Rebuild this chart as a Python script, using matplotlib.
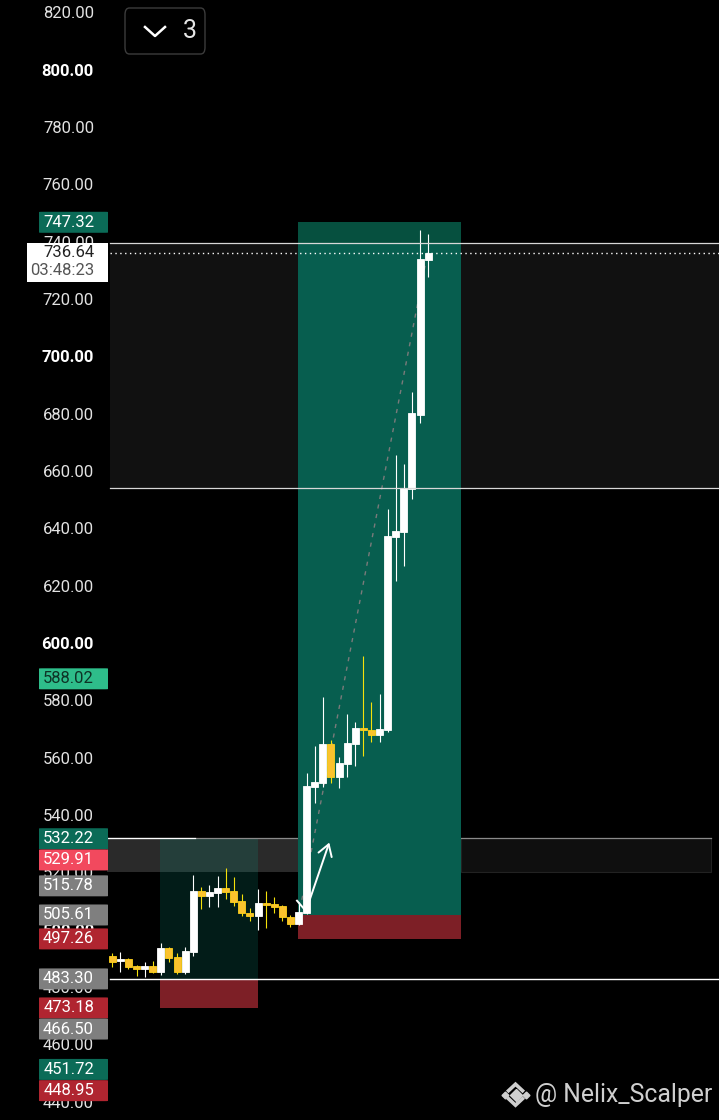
import numpy as np
import matplotlib
matplotlib.use('Agg')
import matplotlib.pyplot as plt
import matplotlib.transforms as mtransforms
from matplotlib.patches import Rectangle, FancyBboxPatch

plt.rcParams['font.family'] = ['Roboto', 'DejaVu Sans']

# candle data (open, high, low, close), one per bar
opens  = [491.3, 489.5, 490.2, 487.8, 486.7, 487.8, 485.8, 494.0, 490.9, 485.7,
          492.8, 514.0, 512.4, 513.4, 514.9, 514.0, 510.4, 506.4, 505.4, 509.8,
          509.5, 508.8, 504.8, 502.3, 506.4, 550.4, 551.8, 565.3, 553.9, 558.4,
          565.4, 571.0, 570.2, 568.5, 570.3, 637.6, 639.4, 654.4, 680.2, 734.3]
highs  = [492.3, 492.7, 490.6, 488.2, 489.2, 489.6, 495.8, 494.4, 492.3, 494.4,
          519.6, 515.2, 516.1, 519.2, 522.0, 518.9, 512.8, 508.0, 514.7, 514.0,
          511.9, 509.1, 505.7, 510.3, 555.1, 564.4, 581.8, 566.7, 560.6, 575.9,
          573.1, 596.0, 579.9, 582.7, 647.3, 666.1, 663.0, 688.1, 744.6, 743.2]
lows   = [487.6, 485.8, 486.7, 484.4, 483.8, 485.5, 484.7, 489.3, 485.0, 485.0,
          491.3, 507.7, 508.5, 508.5, 511.2, 508.9, 505.3, 503.6, 500.5, 501.2,
          506.4, 503.6, 501.5, 502.0, 505.9, 544.8, 550.4, 551.8, 550.0, 553.9,
          557.7, 561.2, 565.8, 565.8, 569.5, 622.0, 627.5, 650.9, 677.4, 728.3]
closes = [489.3, 490.3, 487.6, 486.7, 487.8, 485.8, 494.0, 490.7, 485.7, 493.1,
          514.0, 512.4, 513.8, 514.9, 513.8, 510.3, 506.2, 505.4, 509.8, 509.2,
          508.5, 504.8, 502.4, 506.7, 550.6, 552.0, 565.3, 553.9, 558.7, 565.6,
          571.0, 570.0, 568.5, 570.5, 637.9, 639.6, 654.6, 680.8, 734.5, 736.64]

price_ticks = list(range(440, 821, 20))
last_price = 736.64
countdown = '03:48:23'

# position tools: (bar start, bar end, entry, take profit, stop)
pos1 = (5.9, 18.0, 483.30, 532.22, 473.18)
pos2 = (22.93, 43.05, 505.61, 747.32, 497.26)

# zones and levels
res_zone = (654.6, 740.1)
sup_zone = (520.5, 532.3)
level_483 = 483.30

# price tags on the axis
tag_values = [747.32, 588.02, 532.22, 529.91, 515.78, 505.61, 497.26,
              483.30, 473.18, 466.50, 451.72, 448.95]
tag_colors = ['#0b6b57', '#2ebd8a', '#0b6b57', '#f2495e', '#7f7f7f', '#7f7f7f',
              '#b02530', '#7f7f7f', '#b02530', '#7f7f7f', '#0b6b57', '#b02530']
tag_text   = ['white', '#0e3326', 'white', 'white', 'white', 'white',
              'white', 'white', 'white', 'white', 'white', 'white']
tag_shift  = [0, 0, 0, 14.6, 0, 0, 0, 0, 0, 2, 0, 13.3]

# projection line and arrow drawn on the chart
proj_line = ([23.4, 38.7], [510.9, 733.5])
arrow_tail = (22.8, 510.6)
arrow_knee = (23.9, 507.0)
arrow_tip = (26.9, 531.8)

W, H = 719, 1120
fig = plt.figure(figsize=(W / 100, H / 100), dpi=100, facecolor='black')
ax = fig.add_axes([0, 0, 1, 1])
ax.set_facecolor('black')
ax.set_xlim(-112.3 / 8.1, (W - 112.3) / 8.1)
ax.set_ylim(434.07, 824.885)
ax.axis('off')
ppu = H / (824.885 - 434.07)   # pixels per price unit
bpx = 8.1                       # pixels per bar
mix = mtransforms.blended_transform_factory(ax.transAxes, ax.transData)

# resistance zone
ax.add_patch(Rectangle((110 / W, res_zone[0]), 1, res_zone[1] - res_zone[0],
                       transform=mix, color='#111111', lw=0, zorder=1))
for lv in res_zone:
    ax.plot([110 / W, 1], [lv, lv], transform=mix, color='#d8d8d8', lw=0.9, zorder=6)

# support zone
ax.add_patch(Rectangle((107 / W, sup_zone[0]), (461 - 107) / W, sup_zone[1] - sup_zone[0],
                       transform=mix, color='#2a2a2a', lw=0, zorder=1.5))
ax.add_patch(Rectangle((461 / W, sup_zone[0]), (711 - 461) / W, sup_zone[1] - sup_zone[0],
                       transform=mix, color='#0f0f0f', ec='#222222', lw=0.8, zorder=1.5))
ax.plot([107 / W, 711 / W], [sup_zone[1], sup_zone[1]], transform=mix, color='#8a8a8a', lw=0.9, zorder=1.6)
ax.plot([107 / W, 195 / W], [sup_zone[1], sup_zone[1]], transform=mix, color='white', lw=0.9, zorder=1.7)

# position tools
x0, x1, entry, tp, sl = pos1
ax.add_patch(Rectangle((x0, entry), x1 - x0, tp - entry, color='#0f917d', alpha=0.2, lw=0, zorder=2))
ax.add_patch(Rectangle((x0, sl), x1 - x0, entry - sl, color='#7d1f26', lw=0, zorder=2))
x0, x1, entry, tp, sl = pos2
ax.add_patch(Rectangle((x0, entry), x1 - x0, tp - entry, color='#075e4f', lw=0, zorder=2))
ax.add_patch(Rectangle((x0, res_zone[1]), x1 - x0, tp - res_zone[1], color='#06503f', lw=0, zorder=2.1))
ax.add_patch(Rectangle((x0, sl), x1 - x0, entry - sl, color='#7d1f26', lw=0, zorder=2))

ax.plot([110 / W, 1], [level_483, level_483], transform=mix, color='white', lw=1, zorder=6)
ax.plot([110 / W, 1], [last_price, last_price], transform=mix, color='white', lw=1,
        dashes=(1, 2.5), zorder=6)

# projection
ax.plot(proj_line[0], proj_line[1], color='#7a7a7a', lw=1, dashes=(3, 4), zorder=4)

# candles
wbody = 7 / bpx
for i, (o, h, l, c) in enumerate(zip(opens, highs, lows, closes)):
    up = c >= o
    wick = 'white' if up else '#f5e10a'
    ax.plot([i, i], [l, h], color=wick, lw=0.8, zorder=5, solid_capstyle='butt')
    lo, hi = min(o, c), max(o, c)
    ax.add_patch(Rectangle((i - wbody / 2, lo), wbody, max(hi - lo, 0.5),
                           fc='white' if up else '#fbc22e',
                           ec='white' if up else '#ffd21a', lw=0.6, zorder=5.5))

# arrow
ax.plot([arrow_tail[0], arrow_knee[0]], [arrow_tail[1], arrow_knee[1]], color='white', lw=1.4, zorder=7)
ax.annotate('', xy=arrow_tip, xytext=arrow_knee,
            arrowprops=dict(arrowstyle='->,head_length=0.8,head_width=0.5', color='white', lw=1.4),
            zorder=7)

# price axis labels
for v in price_ticks:
    ax.text(94 / W, v, f'{v:.2f}', transform=mix, ha='right', va='center',
            fontsize=12, color='white' if v % 100 == 0 else '#e2e2e2',
            fontweight='bold' if v % 100 == 0 else 'normal', zorder=8)

bh = 21 / ppu
for v, col, tc, sh in zip(tag_values, tag_colors, tag_text, tag_shift):
    yc = v - sh / ppu
    ax.add_patch(FancyBboxPatch((39 / W, yc - bh / 2), 69 / W, bh, transform=mix,
                                boxstyle='round,pad=0,rounding_size=0.004',
                                mutation_aspect=bh / (68 / W) * 0.3,
                                fc=col, ec='none', zorder=9))
    ax.text(94 / W, yc, f'{v:.2f}', transform=mix, ha='right', va='center',
            fontsize=12, color=tc, zorder=10)

# last price with countdown
ax.add_patch(Rectangle((27 / W, last_price - 29 / ppu), 81 / W, 39 / ppu, transform=mix,
                       fc='white', ec='none', zorder=9))
ax.text(94 / W, last_price, f'{last_price:.2f}', transform=mix, ha='right', va='center',
        fontsize=12, color='#222222', zorder=10)
ax.text(94 / W, last_price - 18 / ppu, countdown, transform=mix, ha='right', va='center',
        fontsize=12, color='#555555', zorder=10)

# interval selector
fig.patches.append(FancyBboxPatch((125 / W, 1 - 54 / H), 80 / W, 46 / H,
                                  boxstyle='round,pad=0,rounding_size=0.006',
                                  transform=fig.transFigure, fc='black', ec='#3c3c3c', lw=1))
fig.lines.append(plt.Line2D([145 / W, 155 / W, 165 / W], [1 - 27 / H, 1 - 36 / H, 1 - 27 / H],
                            transform=fig.transFigure, color='white', lw=1.8))
fig.text(190 / W, 1 - 31 / H, '3', ha='center', va='center', fontsize=18, color='#e6e6e6')

# watermark
cx, cy = 515.5 / W, 1 - 1094.7 / H
fig.lines.append(plt.Line2D([cx], [cy], marker='D', ms=6, color='#cfcfcf', transform=fig.transFigure))
for dx in (-10.5, 10.5):
    fig.lines.append(plt.Line2D([cx + dx / W], [cy], marker='D', ms=3.5, color='#cfcfcf',
                                transform=fig.transFigure))
for s in (1, -1):
    fig.lines.append(plt.Line2D([cx - 7 / W, cx, cx + 7 / W],
                                [cy + s * 4 / H, cy + s * 10.5 / H, cy + s * 4 / H],
                                transform=fig.transFigure, color='#cfcfcf', lw=2.6,
                                solid_joinstyle='miter'))
fig.text(535 / W, cy, '@ Nelix_Scalper', ha='left', va='center', fontsize=17.8, color='#cfcfcf')

fig.savefig('out.png', dpi=100, facecolor='black')
